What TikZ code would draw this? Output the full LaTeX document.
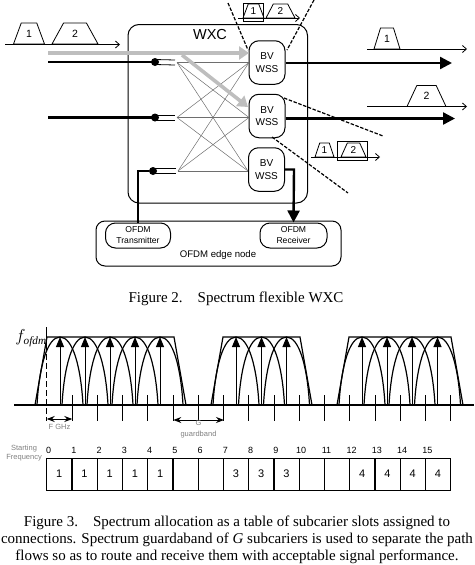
\documentclass[tikz,border=0pt]{standalone}
\usepackage{fontspec}
\setmainfont{Liberation Serif}
\setsansfont{Liberation Sans}
\usepackage{tikz}
\usetikzlibrary{shapes.geometric, arrows.meta, positioning, calc}
\definecolor{flowgray}{RGB}{190,190,190}
\definecolor{fangray}{RGB}{110,110,110}

\begin{document}
\begin{tikzpicture}[
    x=1pt, y=-1pt,
    box/.style={draw, line width=1pt, rounded corners=10pt, inner sep=0pt, align=center, font=\sffamily\fontsize{10}{12.5}\selectfont},
    wss/.style={box, minimum width=36pt, minimum height=43.5pt},
    edgebox/.style={box, minimum width=65pt, minimum height=25pt, font=\sffamily\fontsize{8.6}{11}\selectfont},
    slot/.style={draw, trapezium, trapezium stretches=true, trapezium left angle=68, trapezium right angle=68, minimum height=21pt, inner sep=0pt, line width=0.8pt, font=\sffamily\fontsize{10.5}{11}\selectfont},
    smallslot/.style={slot, minimum height=14pt, font=\sffamily\fontsize{10}{11}\selectfont},
    base/.style={-{Straight Barb[length=4pt,width=7pt]}, line width=0.8pt},
    fiber/.style={line width=2.4pt},
    fiberarrow/.style={fiber, -{Triangle[length=12pt,width=12pt]}},
    flow/.style={flowgray, line width=3.6pt, -{Triangle[length=10pt,width=13pt]}},
    fan/.style={fangray, line width=0.5pt},
    fork/.style={line width=0.8pt},
    dot/.style={circle, fill=black, inner sep=0pt, minimum size=8pt},
    cut/.style={line width=1.2pt, dash pattern=on 3.5pt off 1.6pt},
    carrier/.style={line width=1pt, -{Triangle[length=10pt,width=8pt]}},
    gap/.style={line width=1pt, {Stealth[length=8pt,width=6pt]}-{Stealth[length=8pt,width=6pt]}},
    cell/.style={draw, line width=0.9pt, minimum width=25.3pt, minimum height=32pt, inner sep=0pt, font=\sffamily\fontsize{11}{12}\selectfont},
    tiny/.style={font=\sffamily\fontsize{7.5}{9}\selectfont, gray, align=center, inner sep=0pt},
    freq/.style={font=\sffamily\fontsize{9}{10}\selectfont, inner sep=0pt},
    caption/.style={inner sep=0pt, align=center, font=\fontsize{15}{17}\selectfont}
]
\useasboundingbox (0,0) rectangle (474,565);

\draw[box, rounded corners=11pt] (128,24.5) rectangle (307.5,203);
\node[font=\sffamily\fontsize{14.5}{16}\selectfont, inner sep=0pt] (wxc) at (210,35) {WXC};
\node[wss] (wssone) at (267,62.5) {BV\\WSS};
\node[wss, below=9pt of wssone] (wsstwo) {BV\\WSS};
\node[wss, below=9pt of wsstwo, xshift=-0.5pt] (wssthree) {BV\\WSS};

\draw[box, rounded corners=9pt] (96,221) rectangle (341,266);
\node[edgebox] (tx) at (138,235.5) {OFDM\\Transmitter};
\node[edgebox, minimum width=67pt] (rx) at (293.5,235.5) {OFDM\\Receiver};
\node[font=\sffamily\fontsize{9.6}{11}\selectfont, inner sep=0pt] (edge) at (218,255) {OFDM edge node};

\coordinate (startone) at (48,62);
\coordinate (starttwo) at (48,117.5);
\coordinate (joinone) at (155,62);
\coordinate (jointwo) at (155,117.5);
\coordinate (jointhree) at (153,171);
\coordinate (inone) at (177,62.5);
\coordinate (intwo) at (177,117.5);
\coordinate (inthree) at (178,171);
\coordinate (outone) at (249,62.5);
\coordinate (outtwo) at (249,117.5);
\coordinate (outthree) at (248,171);

\foreach \a in {inone,intwo,inthree}
  \foreach \b in {outone,outtwo,outthree}
    \draw[fan] (\a) -- (\b);

\foreach \j/\k in {joinone/inone,jointwo/intwo,jointhree/inthree} {
  \draw[fork] ($(\j)+(0,-2.5)$) -- ($(\k)+(-2,-2.5)$);
  \draw[fork] ($(\j)+(0,2.5)$) -- ($(\k)+(-2,2.5)$);
}

\coordinate (flowstart) at (48,53);
\coordinate (flowone) at (249,53);
\coordinate (flowbend) at (182,55);
\coordinate (flowtwo) at (248,107);
\draw[flow] (flowstart) -- (flowone);
\draw[flow] (flowbend) -- (flowtwo);

\draw[fiber] (startone) -- (joinone);
\draw[fiber] (starttwo) -- (jointwo);
\node[dot] (dotone) at (joinone) {};
\node[dot] (dottwo) at (jointwo) {};
\node[dot] (dotthree) at (jointhree) {};
\draw[fiber] (tx.north) |- (dotthree);

\coordinate (endone) at (452,63);
\coordinate (endtwo) at (455,118.5);
\draw[fiberarrow] (wssone.east |- endone) -- (endone);
\draw[fiberarrow] (wsstwo.east |- endtwo) -- (endtwo);
\draw[fiberarrow] (wssthree.east) -- ++(9,0) -- (rx.north);

\coordinate (cutonea) at (228,3);
\coordinate (cutoneb) at (248,50);
\coordinate (cuttwoa) at (314,0);
\coordinate (cuttwob) at (287,50);
\coordinate (cutthreea) at (284,98);
\coordinate (cutthreeb) at (383,136);
\coordinate (cutfoura) at (272,137);
\coordinate (cutfourb) at (348,193);
\draw[cut] (cutonea) -- (cutoneb);
\draw[cut] (cuttwoa) -- (cuttwob);
\draw[cut] (cutthreea) -- (cutthreeb);
\draw[cut] (cutfoura) -- (cutfourb);

\coordinate (leftstart) at (5,44.5);
\coordinate (leftend) at (120,44.5);
\draw[base] (leftstart) -- (leftend);
\node[slot, minimum width=31pt] (leftone) at (29,33.5) {1};
\node[slot, minimum width=46pt] (lefttwo) at (75,33.5) {2};

\coordinate (topstart) at (238,18);
\coordinate (topend) at (300,18);
\draw[base] (topstart) -- (topend);
\node[smallslot, minimum width=21pt] (topone) at (253.5,11) {1};
\node[smallslot, minimum width=29pt] (toptwo) at (280.5,11) {2};
\draw[line width=0.8pt] (243,3) rectangle (263,21);

\coordinate (rightonestart) at (367,49);
\coordinate (rightoneend) at (467,49);
\draw[base] (rightonestart) -- (rightoneend);
\node[slot, minimum width=26pt] (rightone) at (387,38.5) {1};

\coordinate (righttwostart) at (367,106.5);
\coordinate (righttwoend) at (467,106.5);
\draw[base] (righttwostart) -- (righttwoend);
\node[slot, minimum width=39pt] (righttwo) at (426.5,96) {2};

\coordinate (lowstart) at (311,157);
\coordinate (lowend) at (380,157);
\draw[base] (lowstart) -- (lowend);
\node[smallslot, minimum width=19pt] (lowone) at (324.5,150) {1};
\node[smallslot, minimum width=25pt] (lowtwo) at (353.5,150) {2};
\draw[line width=0.8pt] (337,141) rectangle (367,160);

\node[caption] (figtwo) at (236,299) {Figure 2.\quad Spectrum flexible WXC};

\foreach \c in {60,85,110,135,160,236,261.5,286.5,362,387,412,437.5} {
  \draw[line width=1.2pt] (\c-23,405) .. controls (\c-21,368) and (\c-13,337) .. (\c,337) .. controls (\c+13,337) and (\c+21,368) .. (\c+23,405);
  \draw[carrier] (\c,405) -- (\c,337);
}
\draw[line width=1.2pt] (35,405) -- (47,337) -- (174,337) -- (186,405);
\draw[line width=1.2pt] (211,405) -- (223,337) -- (300,337) -- (312,405);
\draw[line width=1.2pt] (337,405) -- (349,337) -- (451,337) -- (463,405);
\draw[line width=1.2pt] (14,405) -- (474,405);

\foreach \i in {1,...,16}
  \draw[line width=0.9pt] ({46.7+25.25*\i},395) -- ({46.7+25.25*\i},421);
\draw[line width=1pt] (46.7,327) -- (46.7,345);
\draw[line width=1.1pt, dash pattern=on 6pt off 3pt] (46.7,345) -- (46.7,421);
\node[inner sep=0pt, font=\fontsize{16}{18}\selectfont] (fofdm) at (31,338) {$f_{\mathit{ofdm}}$};

\coordinate (gapa) at (46.7,419);
\coordinate (gapb) at (72.3,419);
\coordinate (gapc) at (173.3,420);
\coordinate (gapd) at (224,420);
\draw[gap] (gapa) -- (gapb);
\draw[gap] (gapc) -- (gapd);
\node[tiny, below=5pt of $(gapa)!0.5!(gapb)$] (fghz) {F GHz};
\node[tiny, font=\sffamily\fontsize{7.5}{11}\selectfont] (gband) at (198.5,429.5) {G\\guardband};

\node[tiny, anchor=east] (start) at (42,453) {Starting\\Frequency};
\foreach \i/\v in {0/1,1/1,2/1,3/1,4/1,5/{},6/{},7/3,8/3,9/3,10/{},11/{},12/4,13/4,14/4,15/4} {
  \node[cell] (cell\i) at ({59.3+25.25*\i},474) {\v};
  \node[freq] (freq\i) at ($(cell\i.north west)+(2.5,-7)$) {\i};
}

\node[caption] (figthree) at (237,540) {Figure 3.\quad Spectrum allocation as a table of subcarier slots assigned to\\connections. Spectrum guardaband of \textit{G} subcariers is used to separate the path\\flows so as to route and receive them with acceptable signal performance.};

\end{tikzpicture}
\end{document}
